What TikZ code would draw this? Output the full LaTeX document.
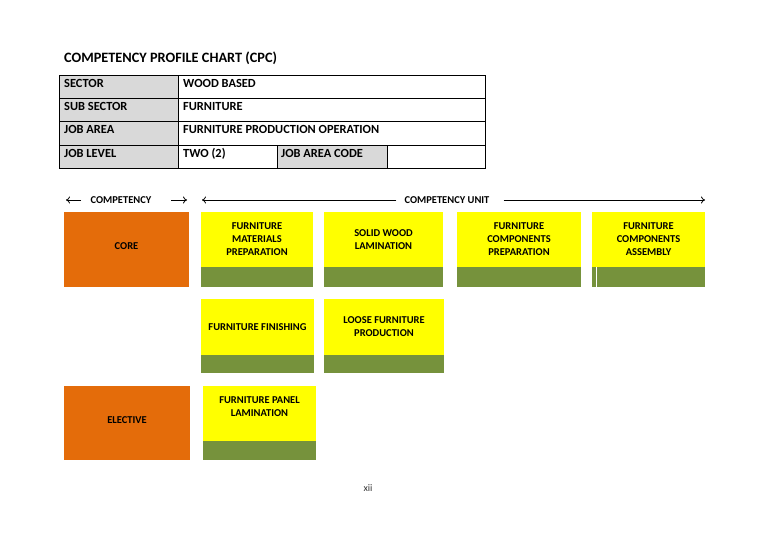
\documentclass[tikz,border=0pt]{standalone}
\usepackage{fontspec}
\setmainfont{Carlito}
\usetikzlibrary{arrows.meta}
\definecolor{cpcorange}{HTML}{E46C0A}
\definecolor{cpcgreen}{HTML}{76923C}
\definecolor{cpcgray}{HTML}{D9D9D9}
\definecolor{cpcyellow}{HTML}{FFFF00}
\begin{document}
\begin{tikzpicture}[x=1pt, y=-1pt,
		cell/.style={anchor=base west, inner sep=0pt, font=\bfseries\fontsize{12.4}{14}\selectfont},
		boxtxt/.style={align=center, inner sep=0pt, font=\bfseries\fontsize{10.5}{13}\selectfont},
		lbl/.style={inner sep=0pt, font=\bfseries\fontsize{10.5}{12}\selectfont},
		tip/.style={-{To[length=4pt, width=7pt]}, line width=0.8pt}]
		\useasboundingbox (0,0) rectangle (768,543);
		\node[anchor=base west, inner sep=0pt, font=\bfseries\fontsize{14.3}{17}\selectfont] (title) at (64,62.5) {COMPETENCY PROFILE CHART (CPC)};
		
		\fill[cpcgray] (59,75) rectangle (178,168);
		\fill[cpcgray] (277,145) rectangle (387,168);
		\draw[line width=0.8pt] (59,75) rectangle (485,168);
		\draw[line width=0.8pt] (178,75) -- (178,168);
		\foreach \y in {98.3,121.7,145} \draw[line width=0.8pt] (59,\y) -- (485,\y);
		\draw[line width=0.8pt] (277,145) -- (277,168);
		\draw[line width=0.8pt] (387,145) -- (387,168);
		\node[cell] (sector) at (64,87) {SECTOR};
		\node[cell] (sectorval) at (183,87) {WOOD BASED};
		\node[cell] (subsector) at (64,110.3) {SUB SECTOR};
		\node[cell] (subsectorval) at (183,110.3) {FURNITURE};
		\node[cell] (jobarea) at (64,133.7) {JOB AREA};
		\node[cell] (jobareaval) at (183,133.7) {FURNITURE PRODUCTION OPERATION};
		\node[cell] (joblevel) at (64,157) {JOB LEVEL};
		\node[cell] (joblevelval) at (183,157) {TWO (2)};
		\node[cell] (jobcode) at (281,157) {JOB AREA CODE};
		
		\node[lbl] (comp) at (121,200) {COMPETENCY};
		\coordinate (compLa) at (81,200);
		\coordinate (compLb) at (66,200);
		\coordinate (compRa) at (171,200);
		\coordinate (compRb) at (187,200);
		\draw[tip] (compLa) -- (compLb);
		\draw[tip] (compRa) -- (compRb);
		\node[lbl] (cu) at (447,200) {COMPETENCY UNIT};
		\coordinate (cuL) at (202,200);
		\coordinate (cuR) at (705,200);
		\draw[tip] ([xshift=-8pt]cu.west) -- (cuL);
		\draw[tip] ([xshift=14pt]cu.east) -- (cuR);
		
		\fill[cpcorange] (64,212) rectangle (189,287);
		\node[boxtxt] (core) at (126.5,246) {CORE};
		\fill[cpcorange] (64,386) rectangle (190,460);
		\node[boxtxt] (elective) at (127,420) {ELECTIVE};
		
		\fill[cpcyellow] (201,212) rectangle (313,267);
		\fill[cpcgreen] (201,267) rectangle (313,287);
		\node[boxtxt] (fmp) at (257,239.5) {FURNITURE\\MATERIALS\\PREPARATION};
		\fill[cpcyellow] (324,212) rectangle (443,267);
		\fill[cpcgreen] (324,267) rectangle (443,287);
		\node[boxtxt] (swl) at (383.5,239.5) {SOLID WOOD\\LAMINATION};
		\fill[cpcyellow] (457,212) rectangle (581,267);
		\fill[cpcgreen] (457,267) rectangle (581,287);
		\node[boxtxt] (fcp) at (519,239.5) {FURNITURE\\COMPONENTS\\PREPARATION};
		\fill[cpcyellow] (592,212) rectangle (705,267);
		\fill[cpcgreen] (592,267) rectangle (705,287);
		\draw[white, line width=1pt] (596,267) -- (596,287);
		\node[boxtxt] (fca) at (648.5,239.5) {FURNITURE\\COMPONENTS\\ASSEMBLY};
		
		\fill[cpcyellow] (201,299) rectangle (314,355);
		\fill[cpcgreen] (201,355) rectangle (314,373);
		\node[boxtxt] (ff) at (257.5,327) {FURNITURE FINISHING};
		\fill[cpcyellow] (324,299) rectangle (444,355);
		\fill[cpcgreen] (324,355) rectangle (444,373);
		\node[boxtxt] (lfp) at (384,326.5) {LOOSE FURNITURE\\PRODUCTION};
		
		\fill[cpcyellow] (203,386) rectangle (316,441);
		\fill[cpcgreen] (203,441) rectangle (316,460);
		\node[boxtxt] (fpl) at (259.5,406.5) {FURNITURE PANEL\\LAMINATION};
		
		\node[inner sep=0pt, font=\fontsize{10}{12}\selectfont, text=black!80] (page) at (368,488) {xii};
	\end{tikzpicture}
\end{document}
